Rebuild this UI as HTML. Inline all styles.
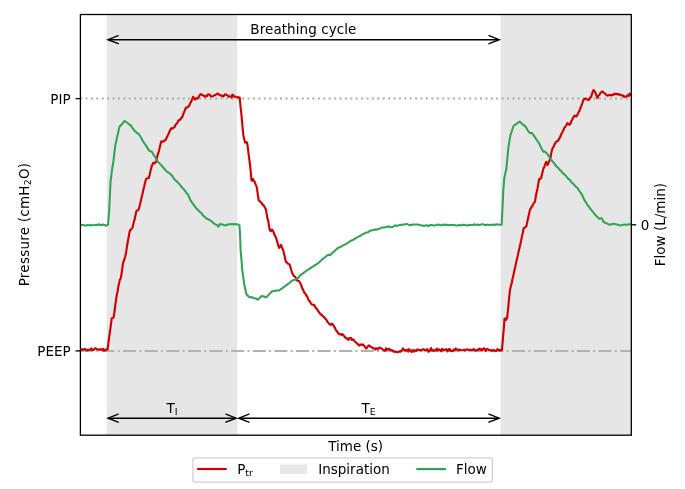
<!DOCTYPE html>
<html><head><meta charset="utf-8"><title>Breathing cycle</title>
<style>html,body{margin:0;padding:0;background:#fff}svg{display:block}</style>
</head><body>
<svg width="685" height="489" viewBox="0 0 685 489" font-family='"DejaVu Sans","Liberation Sans",sans-serif' font-size="13.5" fill="#000">
<rect width="685" height="489" fill="#fff"/>
<rect x="106.7" y="14.5" width="130.5" height="420.7" fill="#e6e6e6"/>
<rect x="500.6" y="14.5" width="130.69999999999993" height="420.7" fill="#e6e6e6"/>
<line x1="80.1" y1="98.6" x2="631.3" y2="98.6" stroke="#aaaaaa" stroke-width="2" stroke-dasharray="2.0 3.404"/>
<line x1="79.85" y1="350.9" x2="631.3" y2="350.9" stroke="#b2b2b2" stroke-width="2" stroke-dasharray="13.05 3.26 2.04 3.26"/>
<path d="M80.5,349.5 L81.3,349.3 L82.2,349.9 L83.0,349.3 L83.9,349.3 L84.7,348.8 L85.5,349.4 L86.4,350.3 L87.2,349.8 L88.1,350.2 L88.9,349.7 L89.7,349.8 L90.6,349.6 L91.4,348.3 L92.3,350.1 L93.1,349.9 L94.0,349.8 L94.8,348.3 L95.6,348.3 L96.5,348.9 L97.3,349.2 L98.2,349.7 L99.0,349.5 L99.8,349.9 L100.7,349.1 L101.5,349.7 L102.4,349.8 L103.2,349.0 L104.0,350.7 L104.9,349.9 L105.7,350.3 L106.6,349.1 L107.4,349.5 L107.6,349.5 L108.4,343.0 L109.2,336.9 L110.1,330.7 L110.9,324.8 L111.7,318.3 L112.7,317.9 L113.7,317.3 L114.5,311.5 L115.2,305.7 L116.0,300.2 L116.8,294.8 L117.6,291.4 L118.3,286.8 L119.1,283.3 L119.9,279.4 L120.9,278.0 L121.9,271.1 L122.9,264.0 L123.7,261.0 L124.5,259.0 L125.3,256.5 L126.2,251.9 L127.1,245.7 L127.9,241.3 L128.8,236.3 L129.7,231.3 L130.4,230.0 L131.2,229.5 L131.9,228.3 L132.7,227.3 L133.6,222.7 L134.6,219.4 L135.5,215.2 L136.4,210.9 L137.2,210.6 L138.1,210.1 L138.9,208.9 L139.8,205.3 L140.7,201.5 L141.6,197.3 L142.4,194.3 L143.3,190.1 L144.2,186.5 L145.1,182.5 L146.0,179.2 L146.9,178.2 L147.8,178.2 L148.7,178.2 L149.7,174.6 L150.7,170.0 L151.5,166.9 L152.4,164.7 L153.2,162.8 L153.9,162.7 L154.7,163.3 L155.4,162.5 L156.2,161.8 L157.0,157.7 L157.9,154.1 L158.8,151.7 L159.6,147.9 L160.5,144.3 L161.3,141.3 L162.1,141.8 L162.9,141.7 L163.8,140.8 L164.6,140.7 L165.4,140.3 L166.3,138.6 L167.1,137.1 L168.0,134.9 L168.9,133.0 L169.7,131.2 L170.6,129.1 L171.4,128.1 L172.2,128.7 L173.0,128.2 L173.8,127.6 L174.6,127.0 L175.4,125.0 L176.1,124.2 L176.9,123.5 L177.7,121.9 L178.5,120.4 L179.3,120.2 L180.2,119.8 L181.0,118.2 L181.8,117.8 L182.6,116.3 L183.4,113.9 L184.3,111.6 L185.1,109.8 L185.9,107.6 L186.8,107.7 L187.6,107.0 L188.5,106.5 L189.4,105.3 L190.3,103.1 L191.2,101.7 L192.2,99.1 L193.2,96.8 L194.3,98.8 L195.1,99.5 L195.9,98.7 L196.6,98.0 L197.4,98.6 L198.2,97.8 L198.9,96.9 L199.7,95.1 L200.4,94.2 L201.3,94.1 L202.1,95.0 L203.0,95.3 L203.9,95.7 L204.7,96.7 L205.6,96.6 L206.3,95.7 L207.1,96.0 L207.8,94.6 L208.6,94.5 L209.4,94.3 L210.2,95.6 L211.1,96.3 L211.9,96.5 L212.7,96.2 L213.5,95.9 L214.4,95.3 L215.2,94.9 L216.1,94.6 L217.0,93.9 L217.8,93.5 L218.6,94.1 L219.4,94.8 L220.1,95.1 L220.9,95.6 L221.8,96.0 L222.6,95.6 L223.4,96.5 L224.3,95.1 L225.2,94.4 L226.0,94.5 L226.8,94.9 L227.6,95.5 L228.3,96.4 L229.1,96.6 L229.9,96.3 L230.7,96.7 L231.6,97.6 L232.4,94.5 L233.2,96.2 L234.0,95.6 L234.8,96.8 L235.7,97.1 L236.5,97.2 L237.3,97.2 L238.1,97.0 L238.9,97.9 L239.7,97.6 L240.6,107.1 L241.6,116.3 L242.5,126.8 L243.4,135.4 L244.2,139.1 L245.0,142.6 L246.1,142.2 L247.1,142.6 L247.9,148.4 L248.6,154.1 L249.4,160.0 L250.6,170.0 L251.5,180.4 L252.2,180.6 L253.0,179.0 L253.8,180.9 L254.5,181.5 L255.6,184.4 L256.6,186.6 L257.6,192.8 L258.6,199.9 L259.4,200.6 L260.1,201.7 L260.9,202.4 L261.7,202.9 L262.5,204.7 L263.3,204.8 L264.2,206.5 L265.0,207.7 L265.8,209.1 L266.6,213.6 L267.4,218.1 L268.3,221.1 L269.1,226.7 L269.9,230.6 L270.6,229.6 L271.4,231.1 L272.1,229.6 L272.9,230.6 L273.7,232.4 L274.4,234.6 L275.2,235.9 L276.0,237.7 L276.8,240.3 L277.6,243.1 L278.3,245.4 L279.1,247.9 L280.1,246.4 L281.1,244.9 L282.1,248.0 L283.2,250.0 L283.9,253.4 L284.7,256.0 L285.4,260.2 L286.2,262.3 L287.1,262.5 L287.9,263.8 L288.8,264.0 L289.7,264.7 L290.6,267.7 L291.5,270.8 L292.4,273.5 L293.2,274.8 L294.1,276.1 L294.9,276.6 L295.8,277.8 L296.6,279.7 L297.5,280.7 L298.5,280.9 L299.5,281.7 L300.3,283.2 L301.1,284.9 L302.0,287.7 L302.8,289.3 L303.6,290.9 L304.5,293.0 L305.4,293.6 L306.3,295.5 L307.2,296.7 L308.1,298.9 L309.0,300.7 L309.9,301.4 L310.8,303.2 L311.6,304.3 L312.4,304.7 L313.3,304.9 L314.1,304.9 L314.9,306.2 L315.8,307.9 L316.6,308.6 L317.4,309.6 L318.3,311.2 L319.1,312.4 L320.0,313.5 L320.8,314.7 L321.6,314.5 L322.5,315.9 L323.3,316.7 L324.1,316.8 L325.0,318.5 L325.8,319.1 L326.6,320.1 L327.5,322.0 L328.4,322.8 L329.2,324.0 L330.0,324.1 L330.8,325.0 L331.5,323.8 L332.3,324.0 L333.2,324.6 L334.0,326.6 L334.9,327.5 L335.8,329.8 L336.7,331.0 L337.5,332.0 L338.4,333.6 L339.2,333.7 L340.0,334.4 L340.9,334.0 L341.7,335.0 L342.5,334.2 L343.4,335.0 L344.2,336.3 L345.1,337.3 L345.9,338.2 L346.8,338.2 L347.6,339.3 L348.5,339.9 L349.3,338.0 L350.1,338.5 L351.0,337.9 L351.9,340.0 L352.7,339.3 L353.6,339.7 L354.4,341.0 L355.2,341.8 L356.1,342.7 L356.9,343.3 L357.8,344.4 L358.6,344.6 L359.5,345.7 L360.4,344.4 L361.2,344.8 L362.0,345.1 L362.9,344.4 L363.7,345.4 L364.4,346.0 L365.2,347.3 L366.0,348.5 L366.8,348.1 L367.6,346.4 L368.3,346.0 L369.1,345.4 L370.0,346.3 L370.8,346.8 L371.7,347.2 L372.6,348.0 L373.5,348.4 L374.3,348.5 L375.2,349.5 L376.1,348.2 L376.9,348.6 L377.8,349.4 L378.6,348.2 L379.4,347.7 L380.3,348.1 L381.1,348.3 L381.9,348.6 L382.8,349.6 L383.6,349.7 L384.4,350.6 L385.2,350.6 L386.0,348.3 L386.9,349.9 L387.7,349.0 L388.5,349.1 L389.4,348.8 L390.2,350.2 L391.1,350.3 L391.9,350.0 L392.8,350.9 L393.6,351.6 L394.5,351.8 L395.3,351.3 L396.1,352.1 L397.0,352.1 L397.9,352.1 L398.7,351.6 L399.6,351.5 L400.4,351.8 L401.2,351.0 L402.1,350.5 L402.9,348.4 L403.8,349.5 L404.7,350.3 L405.6,350.7 L406.5,349.8 L407.3,349.8 L408.2,351.6 L409.1,349.2 L410.0,350.6 L410.8,350.9 L411.7,352.2 L412.5,349.8 L413.3,350.8 L414.2,351.6 L415.0,350.2 L415.8,350.6 L416.7,350.8 L417.5,349.4 L418.3,350.0 L419.2,350.2 L420.0,349.9 L420.9,350.5 L421.7,349.9 L422.6,349.8 L423.4,349.2 L424.3,349.6 L425.1,350.5 L426.0,350.0 L426.8,349.3 L427.7,349.3 L428.5,351.8 L429.4,350.7 L430.2,350.3 L431.1,348.1 L431.9,350.3 L432.8,350.2 L433.6,351.1 L434.5,350.2 L435.3,349.9 L436.2,350.3 L437.0,348.5 L437.9,350.6 L438.7,350.1 L439.6,349.4 L440.4,350.8 L441.3,351.2 L442.2,348.9 L443.0,349.4 L443.9,350.1 L444.7,350.0 L445.6,349.6 L446.4,349.2 L447.3,351.4 L448.1,350.6 L449.0,349.1 L449.8,349.0 L450.7,351.1 L451.5,350.6 L452.4,351.2 L453.2,350.5 L454.1,349.3 L454.9,350.1 L455.8,348.4 L456.6,349.4 L457.5,349.9 L458.3,350.3 L459.2,349.4 L460.0,349.8 L460.9,350.2 L461.8,350.2 L462.6,350.3 L463.5,350.0 L464.3,349.7 L465.2,350.5 L466.0,349.9 L466.9,349.3 L467.7,349.5 L468.6,349.9 L469.4,349.8 L470.3,350.0 L471.1,349.9 L472.0,350.0 L472.8,349.8 L473.7,349.0 L474.5,350.2 L475.4,350.6 L476.2,350.2 L477.1,349.8 L477.9,350.2 L478.8,349.2 L479.6,348.6 L480.5,349.9 L481.4,349.2 L482.2,350.4 L483.1,349.1 L483.9,348.1 L484.8,349.2 L485.6,351.0 L486.5,349.6 L487.3,348.9 L488.2,349.4 L489.0,350.3 L489.9,350.2 L490.7,350.0 L491.6,350.9 L492.4,350.4 L493.3,349.9 L494.1,350.3 L495.0,351.1 L495.8,350.6 L496.7,350.6 L497.5,349.1 L498.4,349.8 L499.2,350.4 L500.1,349.7 L500.9,350.6 L501.8,349.9 L502.0,349.8 L502.8,339.7 L503.7,329.5 L504.5,318.9 L505.4,318.4 L506.2,319.9 L507.1,317.8 L508.1,309.0 L509.0,299.2 L510.0,290.0 L510.9,286.0 L511.8,282.9 L512.7,277.9 L513.6,274.3 L514.5,270.0 L515.3,266.7 L516.1,262.7 L517.0,258.7 L517.8,255.5 L518.6,251.8 L519.5,248.0 L520.3,244.4 L521.2,240.3 L522.0,236.1 L522.9,232.5 L523.7,228.3 L524.6,227.8 L525.5,227.0 L526.4,226.2 L527.3,222.1 L528.1,218.0 L529.0,214.2 L529.9,209.9 L530.8,208.2 L531.6,206.9 L532.5,205.8 L533.3,203.9 L534.1,202.9 L535.0,201.7 L535.8,196.5 L536.6,192.5 L537.5,188.4 L538.3,183.9 L539.1,179.2 L540.1,178.7 L541.1,178.2 L541.9,174.7 L542.8,170.9 L543.6,168.0 L544.5,166.6 L545.3,164.0 L546.2,161.8 L547.0,163.7 L547.7,164.9 L548.6,162.5 L549.4,160.7 L550.3,158.7 L551.3,153.0 L552.4,148.5 L553.2,147.3 L554.0,145.9 L554.9,143.5 L555.7,142.7 L556.5,141.3 L557.5,141.0 L558.5,140.3 L559.2,138.4 L560.0,137.7 L560.8,135.2 L561.6,133.6 L562.5,131.9 L563.3,130.3 L564.1,128.3 L564.9,127.4 L565.8,126.0 L566.6,124.7 L567.4,123.0 L568.2,123.8 L569.0,124.6 L569.8,124.6 L570.6,123.4 L571.4,120.9 L572.3,119.5 L573.1,117.7 L573.9,116.4 L574.7,115.6 L575.6,116.3 L576.4,116.4 L577.2,115.0 L578.0,113.7 L578.8,111.6 L579.6,110.7 L580.4,108.0 L581.2,106.1 L582.1,103.8 L582.9,101.5 L583.7,99.3 L584.5,99.1 L585.4,98.5 L586.2,98.9 L587.0,99.5 L587.8,99.8 L588.6,100.1 L589.4,99.0 L590.3,97.7 L591.1,96.8 L591.9,94.3 L592.7,91.9 L593.5,90.0 L594.4,91.2 L595.2,91.9 L596.2,95.0 L597.3,98.0 L598.2,96.0 L599.2,95.1 L600.1,93.5 L600.9,92.6 L601.7,91.6 L602.5,91.6 L603.4,92.5 L604.2,92.9 L605.0,93.5 L605.8,94.4 L606.6,95.2 L607.4,95.7 L608.2,95.5 L609.1,94.8 L609.9,95.1 L610.7,95.0 L611.6,95.4 L612.4,94.7 L613.2,94.9 L614.0,94.1 L614.8,93.6 L615.7,94.2 L616.5,93.9 L617.3,94.4 L618.1,93.8 L618.9,94.6 L619.8,94.5 L620.6,95.0 L621.4,95.4 L622.2,95.2 L623.0,95.5 L623.8,96.8 L624.6,96.3 L625.4,96.8 L626.2,96.7 L627.1,95.8 L627.9,95.2 L628.8,96.0 L629.6,93.5 L630.4,94.7 L631.3,95.2" fill="none" stroke="#d20000" stroke-width="2.15" stroke-linejoin="round" stroke-linecap="butt"/>
<line x1="108.3" y1="39.7" x2="498.9" y2="39.7" stroke="#000" stroke-width="1.4"/><polyline points="118.2,35.7 108.0,39.7 118.2,43.7" fill="none" stroke="#000" stroke-width="1.4" stroke-linejoin="miter" stroke-linecap="round"/><polyline points="489.0,35.7 499.2,39.7 489.0,43.7" fill="none" stroke="#000" stroke-width="1.4" stroke-linejoin="miter" stroke-linecap="round"/>
<line x1="108.3" y1="418.2" x2="235.85" y2="418.2" stroke="#000" stroke-width="1.4"/><polyline points="118.2,414.2 108.0,418.2 118.2,422.2" fill="none" stroke="#000" stroke-width="1.4" stroke-linejoin="miter" stroke-linecap="round"/><polyline points="225.95,414.2 236.14999999999998,418.2 225.95,422.2" fill="none" stroke="#000" stroke-width="1.4" stroke-linejoin="miter" stroke-linecap="round"/>
<line x1="239.04999999999998" y1="418.2" x2="498.9" y2="418.2" stroke="#000" stroke-width="1.4"/><polyline points="248.95,414.2 238.75,418.2 248.95,422.2" fill="none" stroke="#000" stroke-width="1.4" stroke-linejoin="miter" stroke-linecap="round"/><polyline points="489.0,414.2 499.2,418.2 489.0,422.2" fill="none" stroke="#000" stroke-width="1.4" stroke-linejoin="miter" stroke-linecap="round"/>
<path d="M80.5,224.8 L82.2,224.9 L83.9,225.1 L85.6,225.8 L87.3,224.9 L89.0,225.3 L90.7,225.1 L92.4,225.2 L94.2,225.0 L95.9,224.7 L97.6,225.0 L99.3,224.3 L101.0,225.3 L102.7,224.4 L104.4,224.9 L106.1,225.7 L107.8,224.8 L108.0,224.8 L109.2,211.0 L110.5,182.0 L112.0,170.0 L113.3,162.0 L115.3,145.4 L117.3,136.2 L119.4,127.0 L121.1,125.0 L122.8,123.2 L124.5,120.9 L126.0,122.0 L127.6,123.0 L129.1,124.3 L130.7,125.4 L132.8,128.4 L134.8,131.1 L136.9,132.8 L138.9,134.2 L140.6,136.8 L142.3,140.0 L144.0,142.8 L145.7,145.1 L147.4,147.9 L149.1,150.6 L150.6,151.2 L152.1,152.0 L153.8,155.2 L155.6,157.7 L157.3,160.8 L158.9,162.8 L160.5,164.4 L162.2,166.2 L163.8,168.3 L165.4,170.0 L166.9,171.6 L168.5,172.5 L170.1,173.7 L171.6,175.1 L173.2,177.5 L174.9,179.6 L176.5,181.2 L178.2,182.9 L179.8,184.5 L181.4,186.8 L183.1,188.7 L184.7,190.3 L186.4,192.9 L188.0,194.4 L190.4,200.1 L192.3,202.8 L194.3,205.7 L196.2,208.3 L198.0,210.0 L199.8,211.9 L201.6,213.3 L203.4,215.9 L205.2,217.3 L206.8,218.7 L208.5,219.3 L210.1,220.4 L211.8,221.5 L213.4,223.0 L215.4,224.4 L217.4,225.4 L218.3,226.7 L219.9,224.1 L221.8,224.3 L223.7,224.9 L225.6,225.4 L227.2,224.7 L228.9,224.3 L230.5,224.3 L232.2,223.9 L233.8,224.5 L235.4,223.9 L237.1,224.5 L238.7,224.6 L239.5,225.4 L240.3,240.0 L240.6,250.0 L242.3,270.4 L244.3,284.8 L246.4,294.0 L247.9,295.8 L249.4,297.4 L251.5,297.0 L253.0,297.9 L254.6,298.3 L256.1,298.6 L257.6,299.7 L259.6,297.9 L261.7,296.0 L263.8,296.5 L265.8,297.4 L267.3,296.3 L268.9,294.6 L270.4,293.0 L271.9,291.5 L273.7,291.1 L275.5,290.7 L277.3,290.4 L279.1,290.5 L280.8,289.2 L282.5,288.1 L284.2,286.8 L286.0,285.5 L287.8,284.1 L289.5,283.0 L291.3,281.1 L293.4,280.1 L295.4,279.7 L296.9,278.4 L298.5,277.7 L300.1,275.4 L301.6,274.5 L303.1,273.2 L304.6,272.2 L306.2,271.0 L307.7,269.8 L309.4,268.8 L311.1,267.6 L312.8,266.6 L314.5,265.5 L316.2,264.5 L317.9,263.3 L320.0,261.6 L321.9,259.6 L323.8,258.2 L325.6,256.8 L327.5,255.2 L328.9,254.8 L330.2,255.3 L332.0,253.3 L333.8,251.9 L335.6,249.9 L337.4,248.3 L339.2,247.5 L341.1,246.6 L342.9,245.5 L344.8,244.6 L346.6,243.6 L348.4,242.5 L350.3,241.1 L352.1,240.3 L354.0,239.3 L355.8,238.1 L357.5,237.1 L359.2,236.2 L360.9,235.5 L362.6,234.2 L364.3,233.6 L366.0,232.5 L367.8,232.6 L369.6,231.0 L371.4,230.6 L373.2,229.9 L374.9,229.4 L376.6,229.7 L378.3,228.8 L380.0,228.6 L381.7,227.5 L383.4,227.4 L385.1,227.2 L386.8,227.1 L388.5,226.2 L390.2,227.3 L391.9,226.9 L393.6,226.4 L395.4,225.3 L397.3,225.9 L399.1,225.1 L401.0,225.0 L402.8,224.4 L404.6,224.6 L406.5,223.9 L408.3,224.6 L410.2,225.3 L412.0,224.8 L413.6,224.6 L415.2,224.5 L416.8,224.5 L418.4,224.6 L420.0,225.2 L421.7,225.3 L423.4,225.9 L425.1,225.4 L426.8,225.3 L428.5,226.1 L430.2,224.9 L431.9,224.9 L433.6,225.4 L435.3,225.4 L437.0,224.7 L438.7,224.6 L440.4,225.2 L442.1,225.2 L443.8,224.5 L445.5,225.0 L447.2,224.8 L448.9,225.3 L450.6,225.0 L452.3,225.0 L454.0,224.9 L455.7,225.5 L457.4,225.6 L459.1,224.9 L460.8,225.4 L462.5,224.7 L464.2,225.0 L465.9,225.3 L467.6,225.6 L469.3,224.8 L471.0,224.9 L472.7,225.0 L474.4,224.3 L476.1,224.9 L477.8,224.6 L479.5,225.1 L481.2,224.4 L482.9,224.1 L484.6,224.9 L486.3,225.0 L488.0,224.6 L489.7,225.2 L491.4,224.7 L493.1,224.6 L494.8,225.0 L496.5,224.2 L498.2,224.5 L499.9,224.8 L501.6,224.8 L501.7,224.8 L503.3,190.4 L504.3,178.0 L506.4,168.5 L508.4,147.5 L510.4,135.2 L511.9,130.8 L513.5,126.0 L515.0,124.8 L516.6,123.8 L518.2,122.5 L519.7,121.5 L521.2,122.9 L522.8,124.6 L524.3,125.5 L525.8,127.0 L527.8,130.6 L529.9,133.2 L531.9,132.8 L533.7,135.3 L535.5,138.1 L537.3,140.8 L539.1,143.4 L541.2,147.7 L543.2,151.6 L544.7,151.6 L546.2,152.6 L547.9,154.6 L549.6,157.5 L551.3,159.8 L552.8,161.8 L554.4,163.6 L555.9,165.9 L557.5,167.2 L559.0,169.0 L560.8,170.8 L562.5,172.7 L564.2,174.3 L566.0,176.0 L567.8,178.4 L569.7,179.9 L571.5,182.2 L573.5,184.1 L575.5,186.2 L577.4,187.9 L579.4,191.2 L581.3,193.5 L582.9,196.7 L584.5,200.1 L586.1,202.7 L587.8,205.4 L589.4,207.4 L591.3,209.9 L593.3,212.3 L595.2,214.8 L597.2,216.7 L599.3,218.9 L601.7,218.1 L603.8,222.2 L605.6,222.8 L607.3,223.7 L609.1,224.6 L610.7,224.6 L612.4,224.1 L614.0,223.8 L615.6,224.3 L617.3,224.6 L618.9,225.1 L620.5,225.4 L622.1,225.1 L623.8,224.7 L625.4,224.6 L627.4,224.8 L629.3,224.3 L631.3,224.3" fill="none" stroke="#31a354" stroke-width="2.05" stroke-linejoin="round" stroke-linecap="butt"/>
<rect x="80.4" y="14.5" width="550.9" height="420.7" fill="none" stroke="#000" stroke-width="1.3"/>
<g stroke="#000" stroke-width="1.3">
<line x1="75.5" y1="98.6" x2="80.4" y2="98.6"/>
<line x1="75.5" y1="350.9" x2="80.4" y2="350.9"/>
<line x1="631.3" y1="224.8" x2="636.1999999999999" y2="224.8"/>
</g>
<text x="70.6" y="103.6" text-anchor="end">PIP</text>
<text x="70.6" y="356.2" text-anchor="end">PEEP</text>
<text x="640.7" y="229.9">0</text>
<text x="355.7" y="450.5" text-anchor="middle">Time (s)</text>
<text x="303.4" y="34.4" text-anchor="middle" letter-spacing="0.07">Breathing cycle</text>
<text transform="translate(28.7,224.5) rotate(-90)" text-anchor="middle" letter-spacing="0.23">Pressure (cmH<tspan font-size="9.45" dy="2.2">2</tspan><tspan dy="-2.2">O)</tspan></text>
<text transform="translate(665.3,224.6) rotate(-90)" text-anchor="middle">Flow (L/min)</text>
<text x="166.5" y="412.9">T<tspan font-size="9.45" dy="2.2">I</tspan></text>
<text x="361.4" y="412.9">T<tspan font-size="9.45" dy="2.2">E</tspan></text>
<rect x="192.9" y="457.9" width="299.5" height="24.3" rx="2.7" ry="2.7" fill="#fff" stroke="#cfcfcf" stroke-width="1.2"/>
<line x1="197.1" y1="469" x2="226.7" y2="469" stroke="#d20000" stroke-width="2.15"/>
<text x="237.2" y="473.9">P<tspan font-size="9.45" dy="2.2">tr</tspan></text>
<rect x="280" y="464.5" width="27.2" height="9.4" fill="#e6e6e6"/>
<text x="318.2" y="473.9">Inspiration</text>
<line x1="416.3" y1="469.1" x2="445.9" y2="469.1" stroke="#31a354" stroke-width="2.15"/>
<text x="456.1" y="473.9">Flow</text>
</svg>
</body></html>
